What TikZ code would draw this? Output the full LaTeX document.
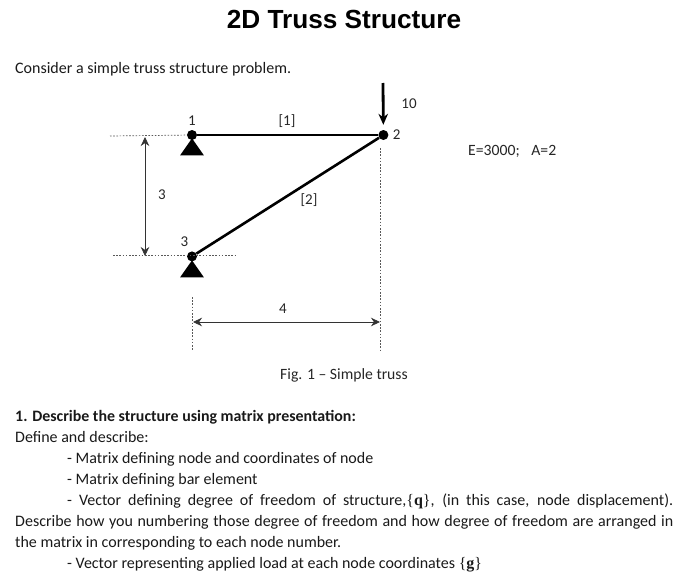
\documentclass[tikz,border=0pt]{standalone}
\usepackage{fontspec}
\setmainfont{Carlito}
\newfontfamily\titlefont{Liberation Sans}
\newfontfamily\vecfont{Liberation Serif}
\usetikzlibrary{positioning,arrows.meta,shapes.geometric}
\tikzset{
    bar/.style={line width=2.6pt},
    joint/.style={circle,fill=black,inner sep=0pt,minimum size=10pt},
    pin/.style={isosceles triangle,isosceles triangle apex angle=70,shape border rotate=90,fill=black,inner sep=0pt,minimum height=17pt,minimum width=19pt,anchor=apex},
    helper/.style={dash pattern=on 1.6pt off 1.6pt,line width=0.7pt,black!65},
    dim/.style={{Stealth[length=9pt,width=8.5pt]}-{Stealth[length=9pt,width=8.5pt]},line width=0.7pt,black!80},
    load/.style={-{Stealth[length=11pt,width=9.5pt]},line width=2.8pt,shorten >=5pt},
    lbl/.style={inner sep=0pt,font=\fontsize{15}{17}\selectfont,text=black!85},
    txt/.style={inner sep=0pt,anchor=base west,font=\fontsize{16}{18}\selectfont,text=black!90},
}
\begin{document}
\begin{tikzpicture}[x=1pt,y=1pt]
    \useasboundingbox (0,0) rectangle (700,-586);
    \node[inner sep=0pt,font=\titlefont\bfseries\fontsize{26.2}{30}\selectfont] (title) at (344,-19) {2D Truss Structure};
    \node[txt] (intro) at (15,-73) {Consider a simple truss structure problem.};

    % truss
    \node[joint] (n1) at (192,-135) {};
    \node[joint,right=181pt of n1] (n2) {};
    \node[joint,below=111pt of n1] (n3) {};
    \node[pin] (s1) at (192,-138) {};
    \node[pin] (s3) at (192,-260) {};
    \draw[bar] (n1) -- (n2);
    \draw[bar] (n3) -- (n2);
    \node[lbl,above=4.5pt of n1] (l1) {1};
    \node[lbl,right=4pt of n2] (l2) {2};
    \node[lbl,above left=6pt and 0pt of n3] (l3) {3};
    \node[lbl] (e1) at (287,-121) {[1]};
    \node[lbl] (e2) at (309,-200) {[2]};

    % load
    \coordinate (f0) at (383,-83);
    \draw[load] (f0) -- (n2);
    \node[lbl] (f) at (409,-104) {10};
    \node[lbl,anchor=west,font=\fontsize{15.7}{18}\selectfont] (prop) at (468,-151.5) {\makebox[88pt][s]{E=3000;\hfill A=2}};

    % dimensions
    \coordinate (h1a) at (110,-136);
    \coordinate (h3a) at (113,-255);
    \coordinate (h3b) at (237,-255);
    \coordinate (v2a) at (380,-148);
    \coordinate (v2b) at (380,-350);
    \coordinate (v3a) at (192.5,-297);
    \coordinate (v3b) at (192.5,-350);
    \draw[helper] (h1a) -- (n1);
    \draw[helper] (h3a) -- (h3b);
    \draw[helper] (v2a) -- (v2b);
    \draw[helper] (v3a) -- (v3b);
    \coordinate (d1) at (145,-137);
    \coordinate (d2) at (145,-256);
    \coordinate (d3) at (193,-322);
    \coordinate (d4) at (380,-322);
    \draw[dim] (d1) -- (d2);
    \draw[dim] (d3) -- (d4);
    \node[lbl] (dy) at (162,-195) {3};
    \node[lbl] (dx) at (283,-309) {4};

    \node[lbl,anchor=base west,font=\fontsize{15.7}{18}\selectfont] (cap) at (280,-379) {Fig. 1 -- Simple truss};

    % questions
    \node[txt,font=\fontsize{15.9}{18}\selectfont\bfseries] (q1) at (15,-421) {1. Describe the structure using matrix presentation:};
    \node[txt] (q2) at (15,-442) {Define and describe:};
    \node[txt] (q3) at (67,-463.5) {- Matrix defining node and coordinates of node};
    \node[txt] (q4) at (67,-484.5) {- Matrix defining bar element};
    \node[txt] (q5) at (67,-505.5) {\makebox[606pt][s]{- Vector defining degree of freedom of structure,{\vecfont\{\textbf{q}\}}, (in this case, node displacement).}};
    \node[txt] (q6) at (15,-526.5) {\makebox[658pt][s]{Describe how you numbering those degree of freedom and how degree of freedom are arranged in}};
    \node[txt] (q7) at (15,-547.5) {the matrix in corresponding to each node number.};
    \node[txt] (q8) at (67,-568.5) {- Vector representing applied load at each node coordinates {\vecfont\{\textbf{g}\}}};
\end{tikzpicture}
\end{document}
